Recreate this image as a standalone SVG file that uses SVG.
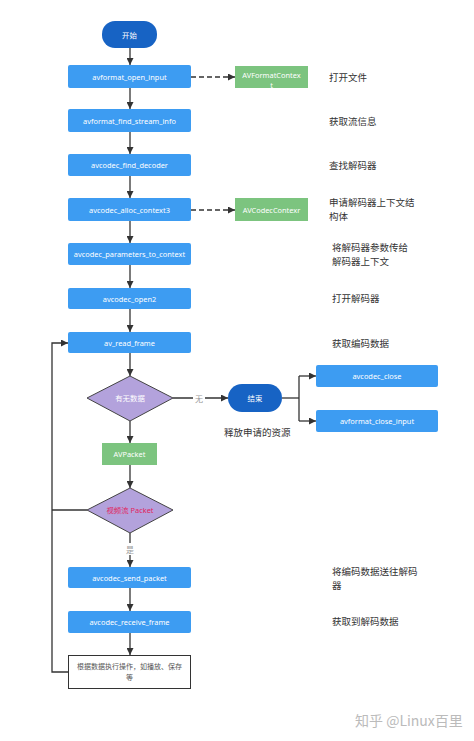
<svg xmlns="http://www.w3.org/2000/svg" width="474" height="741" viewBox="0 0 474 741">
<defs>
<marker id="ah" viewBox="0 0 10 10" refX="10" refY="5" markerWidth="7" markerHeight="7" markerUnits="userSpaceOnUse" orient="auto">
<path d="M0,0 L10,5 L0,10 z" fill="#333"/>
</marker>
<style>
.bx{fill:#3d9cf2;}
.gr{fill:#7cc47f;}
.term{fill:#1763c4;}
.dia{fill:#b3a2dc;stroke:#444;stroke-width:1;}
.t{font-family:"Noto Sans","Noto Sans CJK SC",sans-serif;font-size:7.4px;fill:#fff;text-anchor:middle;dominant-baseline:central;}
.lb{font-family:"Noto Sans CJK SC","Noto Sans",sans-serif;font-size:9.5px;fill:#333;}
.el{font-family:"Noto Sans CJK SC","Noto Sans",sans-serif;font-size:8px;fill:#999;text-anchor:middle;dominant-baseline:central;}
.ln{stroke:#333;stroke-width:1.3;fill:none;}
.dl{stroke:#333;stroke-width:1.3;fill:none;stroke-dasharray:5,3;}
</style>
</defs>
<rect width="474" height="741" fill="#fff"/>

<g id="connectors">
<line class="ln" x1="130" y1="48" x2="130" y2="65" marker-end="url(#ah)"/>
<line class="ln" x1="130" y1="88" x2="130" y2="109" marker-end="url(#ah)"/>
<line class="ln" x1="130" y1="132" x2="130" y2="154" marker-end="url(#ah)"/>
<line class="ln" x1="130" y1="176" x2="130" y2="198" marker-end="url(#ah)"/>
<line class="ln" x1="130" y1="221" x2="130" y2="243" marker-end="url(#ah)"/>
<line class="ln" x1="130" y1="265" x2="130" y2="288" marker-end="url(#ah)"/>
<line class="ln" x1="130" y1="309" x2="130" y2="332" marker-end="url(#ah)"/>
<line class="ln" x1="130" y1="353" x2="130" y2="376" marker-end="url(#ah)"/>
<line class="ln" x1="130" y1="421" x2="130" y2="443" marker-end="url(#ah)"/>
<line class="ln" x1="130" y1="465" x2="130" y2="488" marker-end="url(#ah)"/>
<line class="ln" x1="130" y1="533" x2="130" y2="567" marker-end="url(#ah)"/>
<line class="ln" x1="130" y1="588" x2="130" y2="611" marker-end="url(#ah)"/>
<line class="ln" x1="130" y1="633" x2="130" y2="655" marker-end="url(#ah)"/>
<line class="dl" x1="191" y1="77" x2="235" y2="77" marker-end="url(#ah)"/>
<line class="dl" x1="191" y1="210" x2="235" y2="210" marker-end="url(#ah)"/>
<line class="ln" x1="173" y1="398" x2="228" y2="398" marker-end="url(#ah)"/>
<polyline class="ln" points="282,398 299,398"/>
<polyline class="ln" points="299,376 299,421"/>
<line class="ln" x1="299" y1="376" x2="316" y2="376" marker-end="url(#ah)"/>
<line class="ln" x1="299" y1="421" x2="316" y2="421" marker-end="url(#ah)"/>
<polyline class="ln" points="68,672 52,672 52,343 68,343" marker-end="url(#ah)"/>
<line class="ln" x1="87" y1="510" x2="52" y2="510"/>
<rect x="193" y="392" width="12" height="12" fill="#fff"/>
<text class="el" x="199" y="398">无</text>
<rect x="124" y="543" width="12" height="12" fill="#fff"/>
<text class="el" x="130" y="549">是</text>
</g>

<g id="start"><rect class="term" x="102" y="21" width="55" height="27" rx="13"/><text class="t" x="129.5" y="34.5">开始</text></g>
<g id="open_input"><rect class="bx" x="68" y="65" width="123" height="23" rx="2"/><text class="t" x="129.5" y="76.5">avformat_open_input</text></g>
<g id="fmtctx"><rect class="gr" x="235" y="66" width="73" height="22"/><text class="t" x="271.5" y="74.5">AVFormatContex</text><text class="t" x="271.5" y="85">t</text></g>
<g id="find_stream"><rect class="bx" x="68" y="109" width="123" height="23" rx="2"/><text class="t" x="129.5" y="120.5">avformat_find_stream_info</text></g>
<g id="find_decoder"><rect class="bx" x="68" y="154" width="123" height="22" rx="2"/><text class="t" x="129.5" y="165">avcodec_find_decoder</text></g>
<g id="alloc"><rect class="bx" x="68" y="198" width="123" height="23" rx="2"/><text class="t" x="129.5" y="209.5">avcodec_alloc_context3</text></g>
<g id="codecctx"><rect class="gr" x="235" y="198" width="73" height="23"/><text class="t" x="271.5" y="209.5">AVCodecContexr</text></g>
<g id="params"><rect class="bx" x="68" y="243" width="123" height="22" rx="2"/><text class="t" x="129.5" y="254">avcodec_parameters_to_context</text></g>
<g id="open2"><rect class="bx" x="68" y="288" width="123" height="21" rx="2"/><text class="t" x="129.5" y="298.5">avcodec_open2</text></g>
<g id="read_frame"><rect class="bx" x="68" y="332" width="123" height="21" rx="2"/><text class="t" x="129.5" y="342.5">av_read_frame</text></g>
<g id="has_data"><polygon class="dia" points="130,376 173,398 130,421 87,398"/><text class="t" x="130" y="398">有无数据</text></g>
<g id="end"><rect class="term" x="228" y="384" width="54" height="28" rx="14"/><text class="t" x="255" y="398">结束</text></g>
<g id="codec_close"><rect class="bx" x="316" y="365" width="122" height="22" rx="2"/><text class="t" x="377" y="376">avcodec_close</text></g>
<g id="close_input"><rect class="bx" x="316" y="410" width="122" height="22" rx="2"/><text class="t" x="377" y="421">avformat_close_input</text></g>
<g id="avpacket"><rect class="gr" x="102" y="443" width="55" height="22"/><text class="t" x="129.5" y="454">AVPacket</text></g>
<g id="is_video"><polygon class="dia" points="130,488 173,510 130,533 87,510"/><text class="t" x="130" y="510" style="fill:#e0245e">视频流 Packet</text></g>
<g id="send_packet"><rect class="bx" x="68" y="567" width="123" height="21" rx="2"/><text class="t" x="129.5" y="577.5">avcodec_send_packet</text></g>
<g id="receive_frame"><rect class="bx" x="68" y="611" width="123" height="22" rx="2"/><text class="t" x="129.5" y="622">avcodec_receive_frame</text></g>
<g id="process"><rect x="68.5" y="655.5" width="122" height="33" fill="#fff" stroke="#333" stroke-width="1"/><text class="t" x="129.5" y="666.5" style="fill:#555;font-size:7px">根据数据执行操作，如播放、保存</text><text class="t" x="129.5" y="677" style="fill:#555;font-size:7px">等</text></g>

<g id="labels">
<text class="lb" x="329" y="81">打开文件</text>
<text class="lb" x="329" y="125">获取流信息</text>
<text class="lb" x="329" y="169">查找解码器</text>
<text class="lb" x="329" y="206">申请解码器上下文结</text>
<text class="lb" x="329" y="219.8">构体</text>
<text class="lb" x="332" y="251">将解码器参数传给</text>
<text class="lb" x="332" y="264.8">解码器上下文</text>
<text class="lb" x="332" y="302">打开解码器</text>
<text class="lb" x="332" y="347">获取编码数据</text>
<text class="lb" x="224" y="436">释放申请的资源</text>
<text class="lb" x="332" y="575">将编码数据送往解码</text>
<text class="lb" x="332" y="588.8">器</text>
<text class="lb" x="332" y="625">获取到解码数据</text>
<text x="355" y="726" style="font-family:'Noto Sans CJK SC','Noto Sans',sans-serif;font-size:14px;fill:#bbb">知乎 @Linux百里</text>
</g>
</svg>
